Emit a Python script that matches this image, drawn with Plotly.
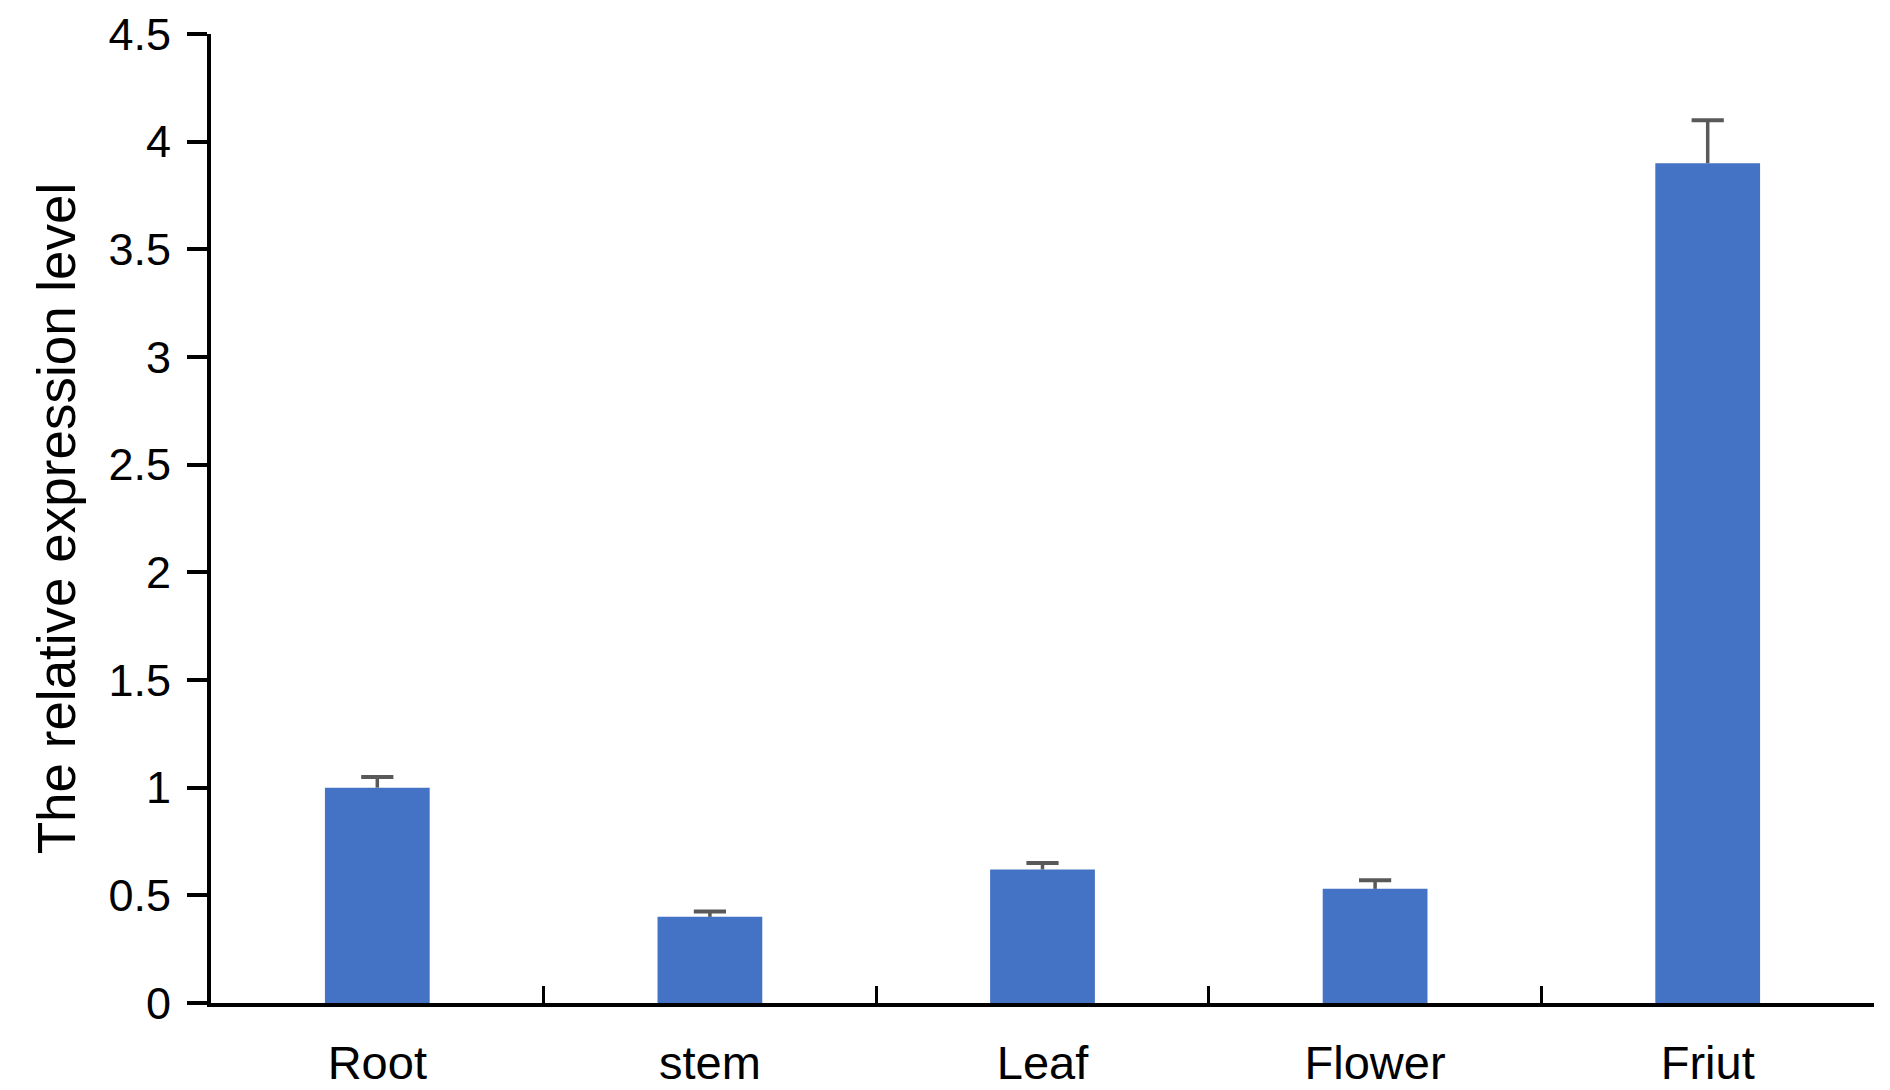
import plotly.graph_objects as go

categories = ["Root", "stem", "Leaf", "Flower", "Friut"]
values = [1.0, 0.40, 0.62, 0.53, 3.90]
errors_plus = [0.05, 0.025, 0.03, 0.04, 0.20]
y_ticks = [0, 0.5, 1, 1.5, 2, 2.5, 3, 3.5, 4, 4.5]
y_tick_labels = ["0", "0.5", "1", "1.5", "2", "2.5", "3", "3.5", "4", "4.5"]

FONT = "Arial, Liberation Sans, sans-serif"
ERR_COLOR = "#595959"

tops = [v + e for v, e in zip(values, errors_plus)]

fig = go.Figure()
fig.add_trace(
    go.Bar(
        x=categories,
        y=values,
        marker=dict(color="#4472C4", line=dict(width=0)),
        hoverinfo="x+y",
    )
)
# one-sided (plus) error bars: stem drawn down from the cap to the bar top, no lower cap
fig.add_trace(
    go.Scatter(
        x=categories,
        y=tops,
        mode="markers",
        marker=dict(
            symbol="line-ew-open",
            size=23,
            line=dict(color=ERR_COLOR, width=4),
            color=ERR_COLOR,
        ),
        error_y=dict(
            type="data",
            symmetric=False,
            array=[0] * len(errors_plus),
            arrayminus=errors_plus,
            color=ERR_COLOR,
            thickness=3.5,
            width=0,
        ),
        hoverinfo="skip",
    )
)

# the page body adds a margin, so the figure is a little smaller than the window
fig.update_layout(
    width=1882,
    height=1082,
    margin=dict(l=203, r=16, t=26, b=87),
    paper_bgcolor="white",
    plot_bgcolor="white",
    bargap=0.685,
    showlegend=False,
    font=dict(family=FONT, color="black"),
)

fig.update_xaxes(
    type="category",
    automargin=False,
    showline=True,
    linecolor="black",
    linewidth=4,
    ticks="inside",
    tickson="boundaries",
    ticklen=17,
    tickwidth=3,
    tickcolor="black",
    tickfont=dict(size=47, family=FONT, color="black"),
    ticklabelstandoff=16,
    showgrid=False,
    zeroline=False,
)

fig.update_yaxes(
    range=[0, 4.5],
    automargin=False,
    tickvals=y_ticks,
    ticktext=y_tick_labels,
    showline=True,
    linecolor="black",
    linewidth=4,
    ticks="outside",
    ticklen=20,
    tickwidth=4,
    tickcolor="black",
    tickfont=dict(size=45, family=FONT, color="black"),
    ticklabelstandoff=7,
    showgrid=False,
    zeroline=False,
    title=dict(
        text="The relative expression level",
        font=dict(size=53, family=FONT, color="black"),
        standoff=17,
    ),
)

fig.write_html("out.html")
